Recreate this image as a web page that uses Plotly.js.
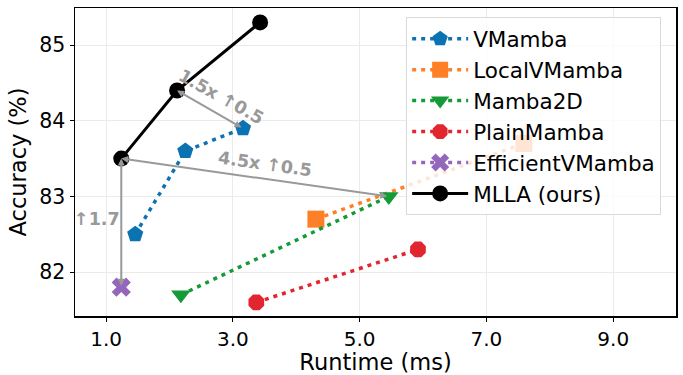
<!DOCTYPE html>
<html><head><meta charset="utf-8">
<script src="https://cdn.plot.ly/plotly-3.0.1.min.js"></script>
<style>html,body{margin:0;padding:0;background:#fff}#chart{width:683px;height:375px}</style>
</head><body><div id="chart"></div>
<script>
const names = ["VMamba","LocalVMamba","Mamba2D","PlainMamba","EfficientVMamba","MLLA (ours)"];
const vmambaX = [1.46, 2.25, 3.16];
const vmambaY = [82.5, 83.6, 83.9];
const localX = [4.31, 7.59];
const localY = [82.7, 83.7];
const mamba2dX = [2.18, 5.46];
const mamba2dY = [81.7, 83.0];
const plainX = [3.37, 5.92];
const plainY = [81.6, 82.3];
const effX = [1.24];
const effY = [81.8];
const mllaX = [1.24, 2.12, 3.43];
const mllaY = [83.5, 84.4, 85.3];
const xTicks = [1, 3, 5, 7, 9];
const yTicks = [82, 83, 84, 85];

const colors = ["#0C73B2","#FF7F27","#149A36","#E2262F","#9467BD","#000000"];
const symbols = ["pentagon","square","triangle-down","octagon","x","circle"];
const xs = [vmambaX, localX, mamba2dX, plainX, effX, mllaX];
const ys = [vmambaY, localY, mamba2dY, plainY, effY, mllaY];

const traces = names.map((n,i)=>({
  type:'scatter', mode:'lines+markers', name:n, x:xs[i], y:ys[i],
  line:{color:colors[i], width: i===5?3:3.5, dash: i===5?'solid':'4px,5px'},
  marker:{symbol:symbols[i], size: i===5?16:17, color:colors[i], line:{width:0}}
}));

const gray = "#999999";
const arrows = [
  {x:mllaX[1], y:mllaY[1], ax:vmambaX[2], ay:vmambaY[2]},
  {x:mllaX[0], y:mllaY[0], ax:mamba2dX[1], ay:mamba2dY[1]},
  {x:mllaX[0], y:mllaY[0], ax:effX[0], ay:effY[0]}
].map(a=>({x:a.x, y:a.y, ax:a.ax, ay:a.ay, xref:'x', yref:'y', axref:'x', ayref:'y',
  text:'', showarrow:true, arrowhead:2, startarrowhead:2, arrowside:'end+start', arrowsize:0.7, arrowwidth:2, arrowcolor:gray, standoff:0, startstandoff:0}));

const labels = [
  {x:2.82, y:84.31, text:'1.5x ↑0.5', textangle:29},
  {x:3.51, y:83.43, text:'4.5x ↑0.5', textangle:8},
  {x:0.86, y:82.70, text:'↑1.7', textangle:0}
].map(l=>({x:l.x, y:l.y, xref:'x', yref:'y', text:'<b>'+l.text+'</b>', textangle:l.textangle, showarrow:false,
  font:{family:'DejaVu Sans', size:17.5, color:gray}}));

const layout = {
  width:683, height:375,
  margin:{l:75, r:7, t:8, b:59},
  paper_bgcolor:'#fff', plot_bgcolor:'#fff',
  font:{family:'DejaVu Sans', size:21, color:'#000'},
  xaxis:{range:[0.51, 9.99], tickvals:xTicks, tickformat:'.1f', showgrid:true, gridcolor:'#ebebeb', gridwidth:1,
    zeroline:false, showline:true, linecolor:'#000', linewidth:1.5, mirror:true, ticks:'outside', ticklen:4, tickcolor:'#000',
    tickfont:{size:20}, title:{text:'Runtime (ms)', font:{size:22.5}, standoff:5}},
  yaxis:{range:[81.42, 85.49], tickvals:yTicks, showgrid:true, gridcolor:'#ebebeb', gridwidth:1,
    zeroline:false, showline:true, linecolor:'#000', linewidth:1.5, mirror:true, ticks:'outside', ticklen:4, tickcolor:'#000',
    tickfont:{size:20.5}, title:{text:'Accuracy (%)', font:{size:22.5}, standoff:6}},
  legend:{x:0.551, y:0.97, xanchor:'left', yanchor:'top', bgcolor:'rgba(255,255,255,0.8)', bordercolor:'#d9d9d9', borderwidth:1,
    font:{size:21.5}, tracegroupgap:0, itemwidth:56},
  annotations: arrows.concat(labels),
  showlegend:true
};
Plotly.newPlot('chart', traces, layout, {displayModeBar:false, staticPlot:true});
</script></body></html>
